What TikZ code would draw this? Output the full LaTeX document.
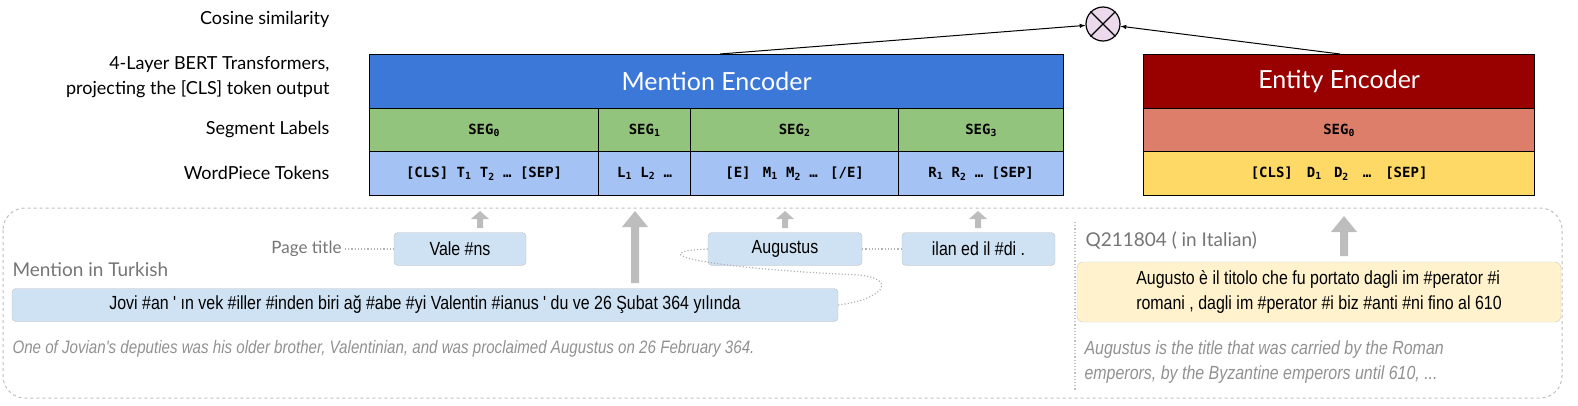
\documentclass[tikz,border=0pt]{standalone}
\usepackage{fontspec}
\setmainfont{Lato}
\newfontfamily\cond[FakeStretch=0.84]{Liberation Sans}
\newfontfamily\condit[FakeStretch=0.84]{Liberation Sans}
\newfontfamily\monob{DejaVu Sans Mono}
\definecolor{mblue}{HTML}{3C78D8}
\definecolor{mgreen}{HTML}{93C47D}
\definecolor{mtok}{HTML}{A4C2F4}
\definecolor{ered}{HTML}{990000}
\definecolor{eseg}{HTML}{DD7E6B}
\definecolor{etok}{HTML}{FFD966}
\definecolor{lblue}{HTML}{CFE2F3}
\definecolor{lyel}{HTML}{FFF2CC}
\definecolor{gtext}{HTML}{757575}
\definecolor{garrow}{HTML}{BDBDBD}
\begin{document}
\begin{tikzpicture}[x=1pt,y=-1pt,
  lab/.style={anchor=east,font=\fontsize{18}{20}\selectfont},
  cell/.style={draw=black,line width=1.2pt,anchor=north west,inner sep=0pt},
  tok/.style={font=\monob\bfseries\fontsize{14}{16}\selectfont},
  pill/.style={draw=black!25,rounded corners=4pt,fill=lblue,font=\cond\fontsize{19}{21}\selectfont,inner sep=0pt},
  garr/.style={draw=garrow,fill=garrow},
]
\useasboundingbox (0,0) rectangle (1578,405);
% left labels
\node[lab] (l1) at (333,19) {Cosine similarity};
\node[lab] (l2) at (333,64) {4-Layer BERT Transformers,};
\node[lab] (l3) at (333,89) {projecting the [CLS] token output};
\node[lab] (l4) at (333,130) {Segment Labels};
\node[lab] (l5) at (333,173) {WordPiece Tokens};
% mention encoder
\node[cell,fill=mblue,minimum width=694pt,minimum height=54pt,text=white,font=\fontsize{25}{28}\selectfont] (menc) at (369,54) {Mention Encoder};
\foreach \a/\b/\n/\s/\t in {369/598/0/0/{[CLS] T\textsubscript{1} T\textsubscript{2} … [SEP]},598/690/1/1/{L\textsubscript{1} L\textsubscript{2} …},690/898/2/2/{[E]\; M\textsubscript{1} M\textsubscript{2} … \;[/E]},898/1063/3/3/{R\textsubscript{1} R\textsubscript{2} … [SEP]}}{
  \node[cell,fill=mgreen,minimum width={\b-\a},minimum height=43pt,tok] (seg\n) at (\a,108) {SEG\textsubscript{\s}};
  \node[cell,fill=mtok,minimum width={\b-\a},minimum height=44pt,tok] (tk\n) at (\a,151) {\t};
}
% entity encoder
\node[cell,fill=ered,minimum width=391pt,minimum height=54pt,text=white,font=\fontsize{25}{28}\selectfont] (eenc) at (1143,54) {Entity Encoder};
\node[cell,fill=eseg,minimum width=391pt,minimum height=43pt,tok] (eseg) at (1143,108) {SEG\textsubscript{0}};
\node[cell,fill=etok,minimum width=391pt,minimum height=44pt,tok] (etk) at (1143,151) {[CLS]\quad D\textsubscript{1}\; D\textsubscript{2}\quad …\quad [SEP]};
% cosine
\node[circle,draw=black,line width=1.2pt,fill=violet!15,minimum size=34pt,inner sep=0pt] (cos) at (1103,24) {};
\draw[line width=1.2pt] (cos.north west)--(cos.south east) (cos.north east)--(cos.south west);
\coordinate (mtop) at (720,54);
\coordinate (etop) at (1340,54);
\draw[-latex,line width=1pt] (mtop) -- (cos);
\draw[-latex,line width=1pt] (etop) -- (cos);
% dashed container
\draw[gray!50,dashed,line width=1pt,rounded corners=22pt] (3,208) rectangle (1562,398);
\draw[gray!50,dotted,line width=1.2pt] (1075,222) -- (1075,390);
% small arrows
\foreach \x in {480,785,978}{
  \fill[garrow] (\x-3,228) rectangle (\x+3,219) (\x-9,219) -- (\x,211) -- (\x+9,219) -- cycle;
}
\fill[garrow] (631,283) rectangle (639,227) (622,227) -- (635,211) -- (648,227) -- cycle;
\fill[garrow] (1340,256) rectangle (1348,232) (1331,232) -- (1344,216) -- (1357,232) -- cycle;
% boxes
\node[pill,minimum width=132pt,minimum height=33pt] (vale) at (460,249) {Vale \#ns};
\node[pill,minimum width=154pt,minimum height=33pt] (aug) at (785,249) {Augustus};
\node[pill,minimum width=153pt,minimum height=33pt] (ilan) at (978.5,249) {ilan ed il \#di .};
\node[pill,minimum width=826pt,minimum height=33pt] (turk) at (425,305) {Jovi \#an ' ın vek \#iller \#inden biri ağ \#abe \#yi Valentin \#ianus ' du ve 26 Şubat 364 yılında};
\node[anchor=east,text=gtext,font=\fontsize{17}{19}\selectfont] (pt) at (345,249) {Page title};
\draw[gray!60,dotted,line width=1.2pt] (pt.east) -- (vale.west);
\draw[gray!60,dotted,line width=1.2pt] (aug.east) -- (ilan.west);
\draw[gray!60,dotted,line width=1.2pt] (aug.west) .. controls (640,252) and (700,268) .. (860,275) .. controls (900,280) and (880,300) .. (turk.east);
\node[anchor=west,text=gtext,font=\fontsize{19}{21}\selectfont] (mt) at (9,270) {Mention in Turkish};
\node[anchor=west,text=gtext!80,font=\condit\itshape\fontsize{18}{20}\selectfont] (en1) at (9,349) {One of Jovian's deputies was his older brother, Valentinian, and was proclaimed Augustus on 26 February 364.};
% right side
\node[anchor=west,text=gtext,font=\fontsize{19}{21}\selectfont] (q) at (1082,241) {Q211804 ( in Italian)};
\node[draw=black!20,rounded corners=6pt,fill=lyel,minimum width=484pt,minimum height=60pt,inner sep=0pt,align=left,font=\cond\fontsize{19}{25}\selectfont] (ital) at (1319,292) {Augusto è il titolo che fu portato dagli im \#perator \#i\\romani , dagli im \#perator \#i biz \#anti \#ni fino al 610};
\node[anchor=west,align=left,text=gtext!80,font=\condit\itshape\fontsize{19}{25}\selectfont] (en2) at (1081,362) {Augustus is the title that was carried by the Roman\\emperors, by the Byzantine emperors until 610, ...};
\end{tikzpicture}
\end{document}
